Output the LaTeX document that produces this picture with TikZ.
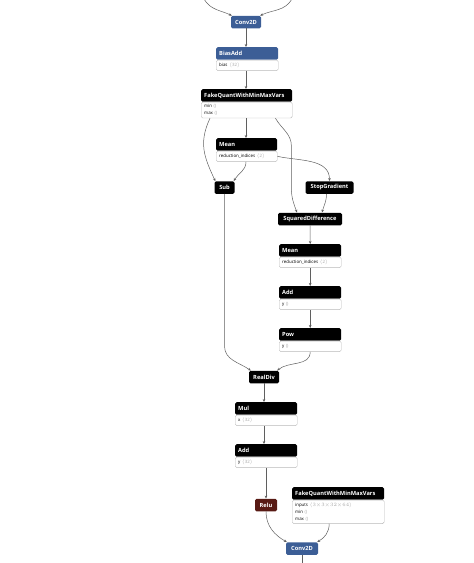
\documentclass[tikz,border=0pt]{standalone}
\usepackage{fontspec}
\setmainfont{Open Sans}
\usetikzlibrary{positioning,arrows.meta}
\definecolor{opblue}{RGB}{60,94,150}
\definecolor{opred}{RGB}{88,26,20}
\definecolor{edgegray}{RGB}{95,95,95}
\newcommand{\attrval}[1]{\textcolor{gray!70}{$\langle$#1$\rangle$}}
\newcommand{\noval}{\textcolor{gray!70}{()}}

\begin{document}
\begin{tikzpicture}[x=1pt,y=-1pt,
    opnode/.style={rectangle, rounded corners=1.5pt, fill=black, text=white, font=\bfseries\fontsize{5.7}{6}\selectfont, inner xsep=2pt, inner ysep=0pt, minimum height=12.5pt},
    headnode/.style={opnode, anchor=north west, text width=#1, align=left, inner xsep=3pt},
    attrnode/.style={rectangle, rounded corners=1.5pt, draw=gray!55, fill=white, font=\fontsize{4.4}{7}\selectfont, inner xsep=3pt, inner ysep=2.5pt, minimum height=10.5pt, text width=#1, align=left},
    flow/.style={draw=edgegray, line width=0.5pt, -{Stealth[length=3pt,width=2.6pt]}}]
    \useasboundingbox (0,0) rectangle (474,563);

    %Nodes
    \node[opnode, fill=opblue, minimum width=30pt]  (conv1)  at (246,22)    {Conv2D};
    \node[headnode=56pt, fill=opblue]               (bias)   at (216,47)    {BiasAdd};
    \node[attrnode=56pt]                            (biasA)  [below=0pt of bias] {bias \attrval{32}};
    \node[headnode=85pt]                            (fq)     at (201,89)    {FakeQuantWithMinMaxVars};
    \node[attrnode=85pt]                            (fqA)    [below=0pt of fq] {min \noval\\max \noval};
    \node[headnode=55pt]                            (mean)   at (216,138)   {Mean};
    \node[attrnode=55pt]                            (meanA)  [below=0pt of mean] {reduction\_indices \attrval{2}};
    \node[opnode, minimum width=20pt]               (sub)    at (224.5,187.5) {Sub};
    \node[opnode, minimum width=48pt]               (sg)     at (329.5,187.5) {StopGradient};
    \node[opnode, minimum width=64pt]               (sqd)    at (310,219)   {SquaredDifference};
    \node[headnode=56pt]                            (mean2)  at (279,244)   {Mean};
    \node[attrnode=56pt]                            (mean2A) [below=0pt of mean2] {reduction\_indices \attrval{2}};
    \node[headnode=56pt]                            (add)    at (279,286)   {Add};
    \node[attrnode=56pt]                            (addA)   [below=0pt of add] {y \noval};
    \node[headnode=56pt]                            (pow)    at (279,328)   {Pow};
    \node[attrnode=56pt]                            (powA)   [below=0pt of pow] {y \noval};
    \node[opnode, minimum width=30pt]               (div)    at (264,377)   {RealDiv};
    \node[headnode=56pt]                            (mul)    at (235,402)   {Mul};
    \node[attrnode=56pt]                            (mulA)   [below=0pt of mul] {x \attrval{32}};
    \node[headnode=56pt]                            (add2)   at (235,444)   {Add};
    \node[attrnode=56pt]                            (add2A)  [below=0pt of add2] {y \attrval{32}};
    \node[opnode, fill=opred, minimum width=22pt]   (relu)   at (266,505)   {Relu};
    \node[headnode=86pt]                            (fq2)    at (292,487)   {FakeQuantWithMinMaxVars};
    \node[attrnode=86pt]                            (fq2A)   [below=0pt of fq2] {inputs \attrval{$3{\times}3{\times}32{\times}64$}\\min \noval\\max \noval};
    \node[opnode, fill=opblue, minimum width=32pt]  (conv2)  at (302,548.5) {Conv2D};
    \coordinate (inL)  at (204,-1);
    \coordinate (inR)  at (292,-1);
    \coordinate (outB) at (302,566);

    %Lines
    \draw[flow] (inL) to[out=-60,in=155] ([xshift=1pt]conv1.north west);
    \draw[flow] (inR) to[out=-120,in=25] ([xshift=-1pt]conv1.north east);
    \draw[flow] (conv1.south) -- (conv1.south |- bias.north);
    \draw[flow] (biasA.south -| conv1.south) -- (conv1.south |- fq.north);
    \draw[flow] (fqA.south -| conv1.south) -- (conv1.south |- mean.north);
    \draw[flow] ([xshift=9pt]fqA.south west) to[out=-115,in=115,looseness=1.1] ([xshift=1pt]sub.north west);
    \draw[flow] (meanA.south -| conv1.south) to[out=-90,in=60] ([xshift=-1pt]sub.north east);
    \draw[flow] ([xshift=-17pt]fqA.south east) to[out=-60,in=90] ++(16,28) -- ++(0,42) to[out=-90,in=110] ([xshift=-13pt]sqd.north);
    \draw[flow] (meanA.east) to[out=-12,in=90] (sg.north);
    \draw[flow] ([xshift=-3pt]sg.south) to[out=-90,in=75] ([xshift=12pt]sqd.north);
    \draw[flow] (sqd.south) -- (mean2.north);
    \draw[flow] (mean2A.south) -- (add.north);
    \draw[flow] (addA.south) -- (pow.north);
    \draw[flow] (powA.south) to[out=-90,in=40] ([xshift=-2pt]div.north east);
    \draw[flow] (sub.south) -- ([yshift=-152pt]sub.south) to[out=-90,in=145] ([xshift=2pt]div.north west);
    \draw[flow] (div.south) -- (div.south |- mul.north);
    \draw[flow] (mulA.south -| div.south) -- (div.south |- add2.north);
    \draw[flow] (add2A.south -| relu.north) -- (relu.north);
    \draw[flow] (relu.south) to[out=-90,in=150] ([xshift=1pt]conv2.north west);
    \draw[flow] ([xshift=-9pt]fq2A.south) to[out=-90,in=30] ([xshift=-1pt]conv2.north east);
    \draw[draw=edgegray, line width=0.5pt] (conv2.south) -- (outB);
\end{tikzpicture}
\end{document}
